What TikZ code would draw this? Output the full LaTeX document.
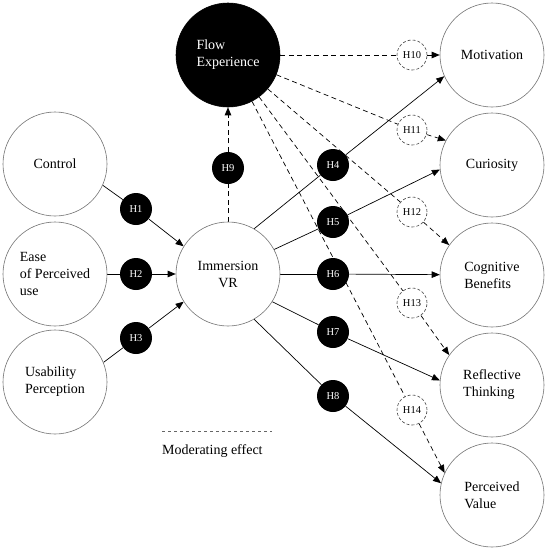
\documentclass[tikz,border=0pt]{standalone}
\usepackage{fontspec}
\setmainfont{Liberation Serif}
\usetikzlibrary{arrows.meta,backgrounds}
\tikzset{construct/.style={circle, draw=black!55, line width=0.6pt, minimum size=104pt, inner sep=0pt, align=left, font=\fontsize{14}{17}\selectfont}}
\tikzset{hyp/.style={circle, fill=black, text=white, minimum size=32pt, inner sep=0pt, font=\fontsize{10.5}{12}\selectfont}}
\tikzset{moder/.style={circle, draw=black!75, fill=white, line width=0.6pt, dash pattern=on 3pt off 2pt, minimum size=30pt, inner sep=0pt, font=\fontsize{10.5}{12}\selectfont}}
\tikzset{link/.style={line width=0.7pt, -{Triangle[length=8pt,width=6.5pt]}}}
\tikzset{modlink/.style={line width=0.7pt, dash pattern=on 5pt off 3.5pt}}

\begin{document}
\begin{tikzpicture}[x=1pt, y=-1pt]
\useasboundingbox (0,0) rectangle (547,550);
% constructs
\node[construct] (ctrl) at (55,164) {Control};
\node[construct] (ease) at (55,274) {Ease\\of Perceived\\use};
\node[construct] (usab) at (55,382) {Usability\\Perception};
\node[construct, align=center] (imm) at (228,274) {Immersion\\VR};
\node[construct, fill=black, draw=black, text=white] (flow) at (228,55) {Flow\\Experience};
\node[construct] (mot) at (492,55) {Motivation};
\node[construct] (cur) at (492,165) {Curiosity};
\node[construct] (cog) at (492,275) {Cognitive\\Benefits};
\node[construct] (refl) at (492,385) {Reflective\\Thinking};
\node[construct] (perc) at (492,495) {Perceived\\Value};
% hypotheses
\node[hyp] (h1) at (136,209) {H1};
\node[hyp] (h2) at (136,274) {H2};
\node[hyp] (h3) at (136,338) {H3};
\node[hyp] (h9) at (228,168) {H9};
\node[hyp] (h4) at (333,165) {H4};
\node[hyp] (h5) at (333,222) {H5};
\node[hyp] (h6) at (333,274) {H6};
\node[hyp] (h7) at (333,332) {H7};
\node[hyp] (h8) at (333,396) {H8};
\node[moder] (h10) at (412,55) {H10};
\node[moder] (h11) at (412,130) {H11};
\node[moder] (h12) at (412,212) {H12};
\node[moder] (h13) at (412,303) {H13};
\node[moder] (h14) at (412,410) {H14};
% connectors
\begin{scope}[on background layer]
\draw[line width=0.7pt] (ctrl.-24) -- (h1);
\draw[link] (h1) -- (imm.148);
\draw[line width=0.7pt] (ease) -- (h2);
\draw[link] (h2) -- (imm);
\draw[line width=0.7pt] (usab.22) -- (h3);
\draw[link] (h3) -- (imm.212);
\draw[modlink] (imm) -- (h9);
\draw[modlink, -{Triangle[length=8pt,width=6.5pt]}] (h9) -- (flow);
\draw[line width=0.7pt] (imm.60) -- (h4);
\draw[link] (h4) -- (mot.204);
\draw[line width=0.7pt] (imm.28) -- (h5);
\draw[link] (h5) -- (cur.185);
\draw[line width=0.7pt] (imm) -- (h6);
\draw[link] (h6) -- (cog);
\draw[line width=0.7pt] (imm.-32) -- (h7);
\draw[link] (h7) -- (refl.175);
\draw[line width=0.7pt] (imm.-60) -- (h8);
\draw[link] (h8) -- (perc.167);
\draw[modlink] (flow) -- (h10);
\draw[modlink, -{Triangle[length=8pt,width=6.5pt]}] (h10) -- (mot);
\draw[modlink] (flow) -- (h11);
\draw[modlink, -{Triangle[length=8pt,width=6.5pt]}] (h11) -- (cur.152);
\draw[modlink] (flow) -- (h12);
\draw[modlink, -{Triangle[length=8pt,width=6.5pt]}] (h12) -- (cog.145);
\draw[modlink] (flow) -- (h13);
\draw[modlink, -{Triangle[length=8pt,width=6.5pt]}] (h13) -- (refl.145);
\draw[modlink] (flow) -- (h14);
\draw[modlink, -{Triangle[length=8pt,width=6.5pt]}] (h14) -- (perc.155);
\end{scope}
% legend
\coordinate (legA) at (162,431);
\coordinate (legB) at (272,431);
\draw[black!60, line width=0.6pt, dash pattern=on 3pt off 3pt] (legA) -- (legB);
\node[anchor=west, inner sep=0pt, font=\fontsize{14}{17}\selectfont] (legtext) at (162,451) {Moderating effect};
\end{tikzpicture}
\end{document}
